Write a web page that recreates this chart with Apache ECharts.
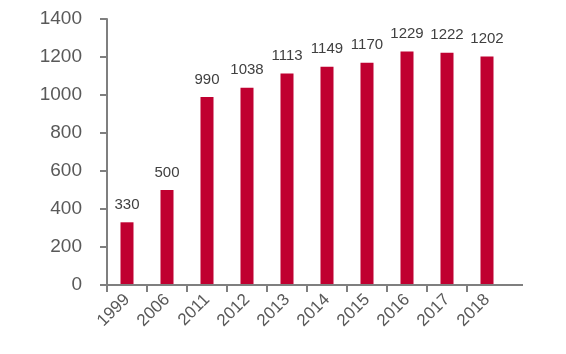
<!DOCTYPE html>
<html>
<head>
<meta charset="utf-8">
<script src="https://cdn.jsdelivr.net/npm/echarts@6/dist/echarts.min.js"></script>
</head>
<body style="margin:0">
<div id="container" style="height: 354px; width: 566px"></div>
<script>
  var years = ['1999', '2006', '2011', '2012', '2013', '2014', '2015', '2016', '2017', '2018'];
  var values = [330, 500, 990, 1038, 1113, 1149, 1170, 1229, 1222, 1202];
  var yTicks = [0, 1400, 200];

  var myChart = echarts.init(document.getElementById('container'));
  var axisColor = '#7f7f7f';
  var option = {
    animation: false,
    grid: { left: 107, top: 19, width: 400, height: 266 },
    graphic: [{
      // cover the trailing tick, the reference axis has none there
      type: 'line',
      shape: { x1: 507, y1: 285, x2: 507, y2: 295 },
      style: { stroke: '#fff', lineWidth: 4 },
      z: 9
    }, {
      type: 'line',
      shape: { x1: 100, y1: 285, x2: 523, y2: 285 },
      style: { stroke: axisColor, lineWidth: 2 },
      z: 10
    }],
    xAxis: {
      type: 'category',
      data: years,
      axisLine: { show: false },
      axisTick: { show: true, length: 7, lineStyle: { color: axisColor, width: 2 } },
      axisLabel: { rotate: 45, margin: 12, fontSize: 17, color: '#595959', fontFamily: 'Liberation Sans, Arial' }
    },
    yAxis: {
      type: 'value',
      min: yTicks[0], max: yTicks[1], interval: yTicks[2],
      splitLine: { show: false },
      axisLine: { show: true, lineStyle: { color: axisColor, width: 2 } },
      axisTick: { show: true, length: 7, lineStyle: { color: axisColor, width: 2 } },
      axisLabel: {
        margin: 25, fontSize: 19, color: '#595959', fontFamily: 'Liberation Sans, Arial',
        formatter: function (v) { return String(v); }
      }
    },
    series: [{
      type: 'bar',
      data: values,
      barWidth: 13,
      itemStyle: { color: '#C00030' },
      label: {
        show: true, position: 'top', distance: 10,
        fontSize: 15, color: '#404040', fontFamily: 'Liberation Sans, Arial'
      }
    }]
  };
  myChart.setOption(option);
</script>
</body>
</html>
